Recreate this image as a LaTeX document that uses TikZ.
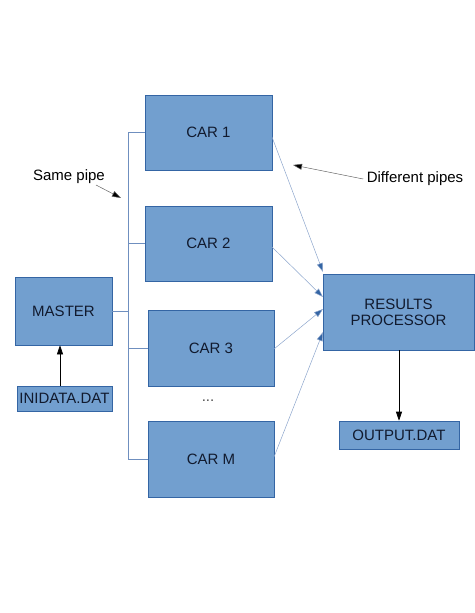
\documentclass[tikz,border=0pt]{standalone}
\usepackage{fontspec}
\setmainfont{Liberation Sans}
\usetikzlibrary{arrows.meta}
\definecolor{boxfill}{HTML}{729FCF}
\definecolor{boxline}{HTML}{3465A4}
\definecolor{pipe}{HTML}{6F8FBF}
\definecolor{txt}{HTML}{111A2E}
\begin{document}
\begin{tikzpicture}[x=1pt,y=-1pt,
  box/.style={draw=boxline,fill=boxfill,line width=0.6pt,inner sep=0pt,font=\fontsize{15}{17}\selectfont,text=txt,align=center},
  bus/.style={draw=pipe,line width=0.6pt},
  flow/.style={draw=pipe!80,line width=0.5pt,-{Triangle[length=9pt,width=6pt,fill=boxline]}},
  note/.style={font=\fontsize{15}{17}\selectfont,text=black},
  point/.style={draw=black!60,line width=0.5pt,-{Triangle[length=9pt,width=6pt,fill=black]}}]
\useasboundingbox (0,0) rectangle (474,613);
\node[box,minimum width=127pt,minimum height=75pt] (car1) at (208.5,132.5) {CAR 1};
\node[box,minimum width=127pt,minimum height=75pt] (car2) at (208.5,243.5) {CAR 2};
\node[box,minimum width=126pt,minimum height=76pt] (car3) at (211,348) {CAR 3};
\node[box,minimum width=126pt,minimum height=76pt] (carm) at (211,459) {CAR M};
\node[box,minimum width=97pt,minimum height=68pt] (master) at (63.5,311) {MASTER};
\node[box,minimum width=95pt,minimum height=25pt] (ini) at (64.5,398.5) {INIDATA.DAT};
\node[box,minimum width=151pt,minimum height=76pt] (res) at (398.5,312) {RESULTS\\[-1pt]PROCESSOR};
\node[box,minimum width=120pt,minimum height=28pt] (out) at (399,435) {OUTPUT.DAT};
\node[font=\fontsize{15}{17}\selectfont,text=black!70] (dots) at (208,401) {...};
\coordinate (bt) at (128,132.5);
\coordinate (bb) at (128,459);
\coordinate (vx) at (60,0);
\draw[bus] (car1.west) -- (bt) -- (bb) -- (carm.west);
\draw[bus] (car2.west) -- (car2.west -| bt);
\draw[bus] (car3.west) -- (car3.west -| bt);
\draw[bus] (master.east) -- (master.east -| bt);
\draw[-{Triangle[length=9pt,width=6pt]},line width=0.6pt] (ini.north -| vx) -- (master.south -| vx);
\draw[-{Triangle[length=9pt,width=6pt]},line width=0.6pt] (res.south -| out.north) -- (out.north);
\coordinate (r1) at (323,272);
\coordinate (r2) at (323,297);
\coordinate (r3) at (323,309);
\coordinate (r4) at (323,332);
\draw[flow] (272,137) -- (r1);
\draw[flow] (272,247) -- (r2);
\draw[flow] (274,349) -- (r3);
\draw[flow] (274,457) -- (r4);
\node[note] (same) at (69,177) {Same pipe};
\coordinate (sametip) at (121,198);
\draw[point] (96,185) -- (sametip);
\node[note] (diff) at (415,179) {Different pipes};
\coordinate (difftip) at (293,165);
\draw[point] (diff.west) -- (difftip);
\end{tikzpicture}
\end{document}
